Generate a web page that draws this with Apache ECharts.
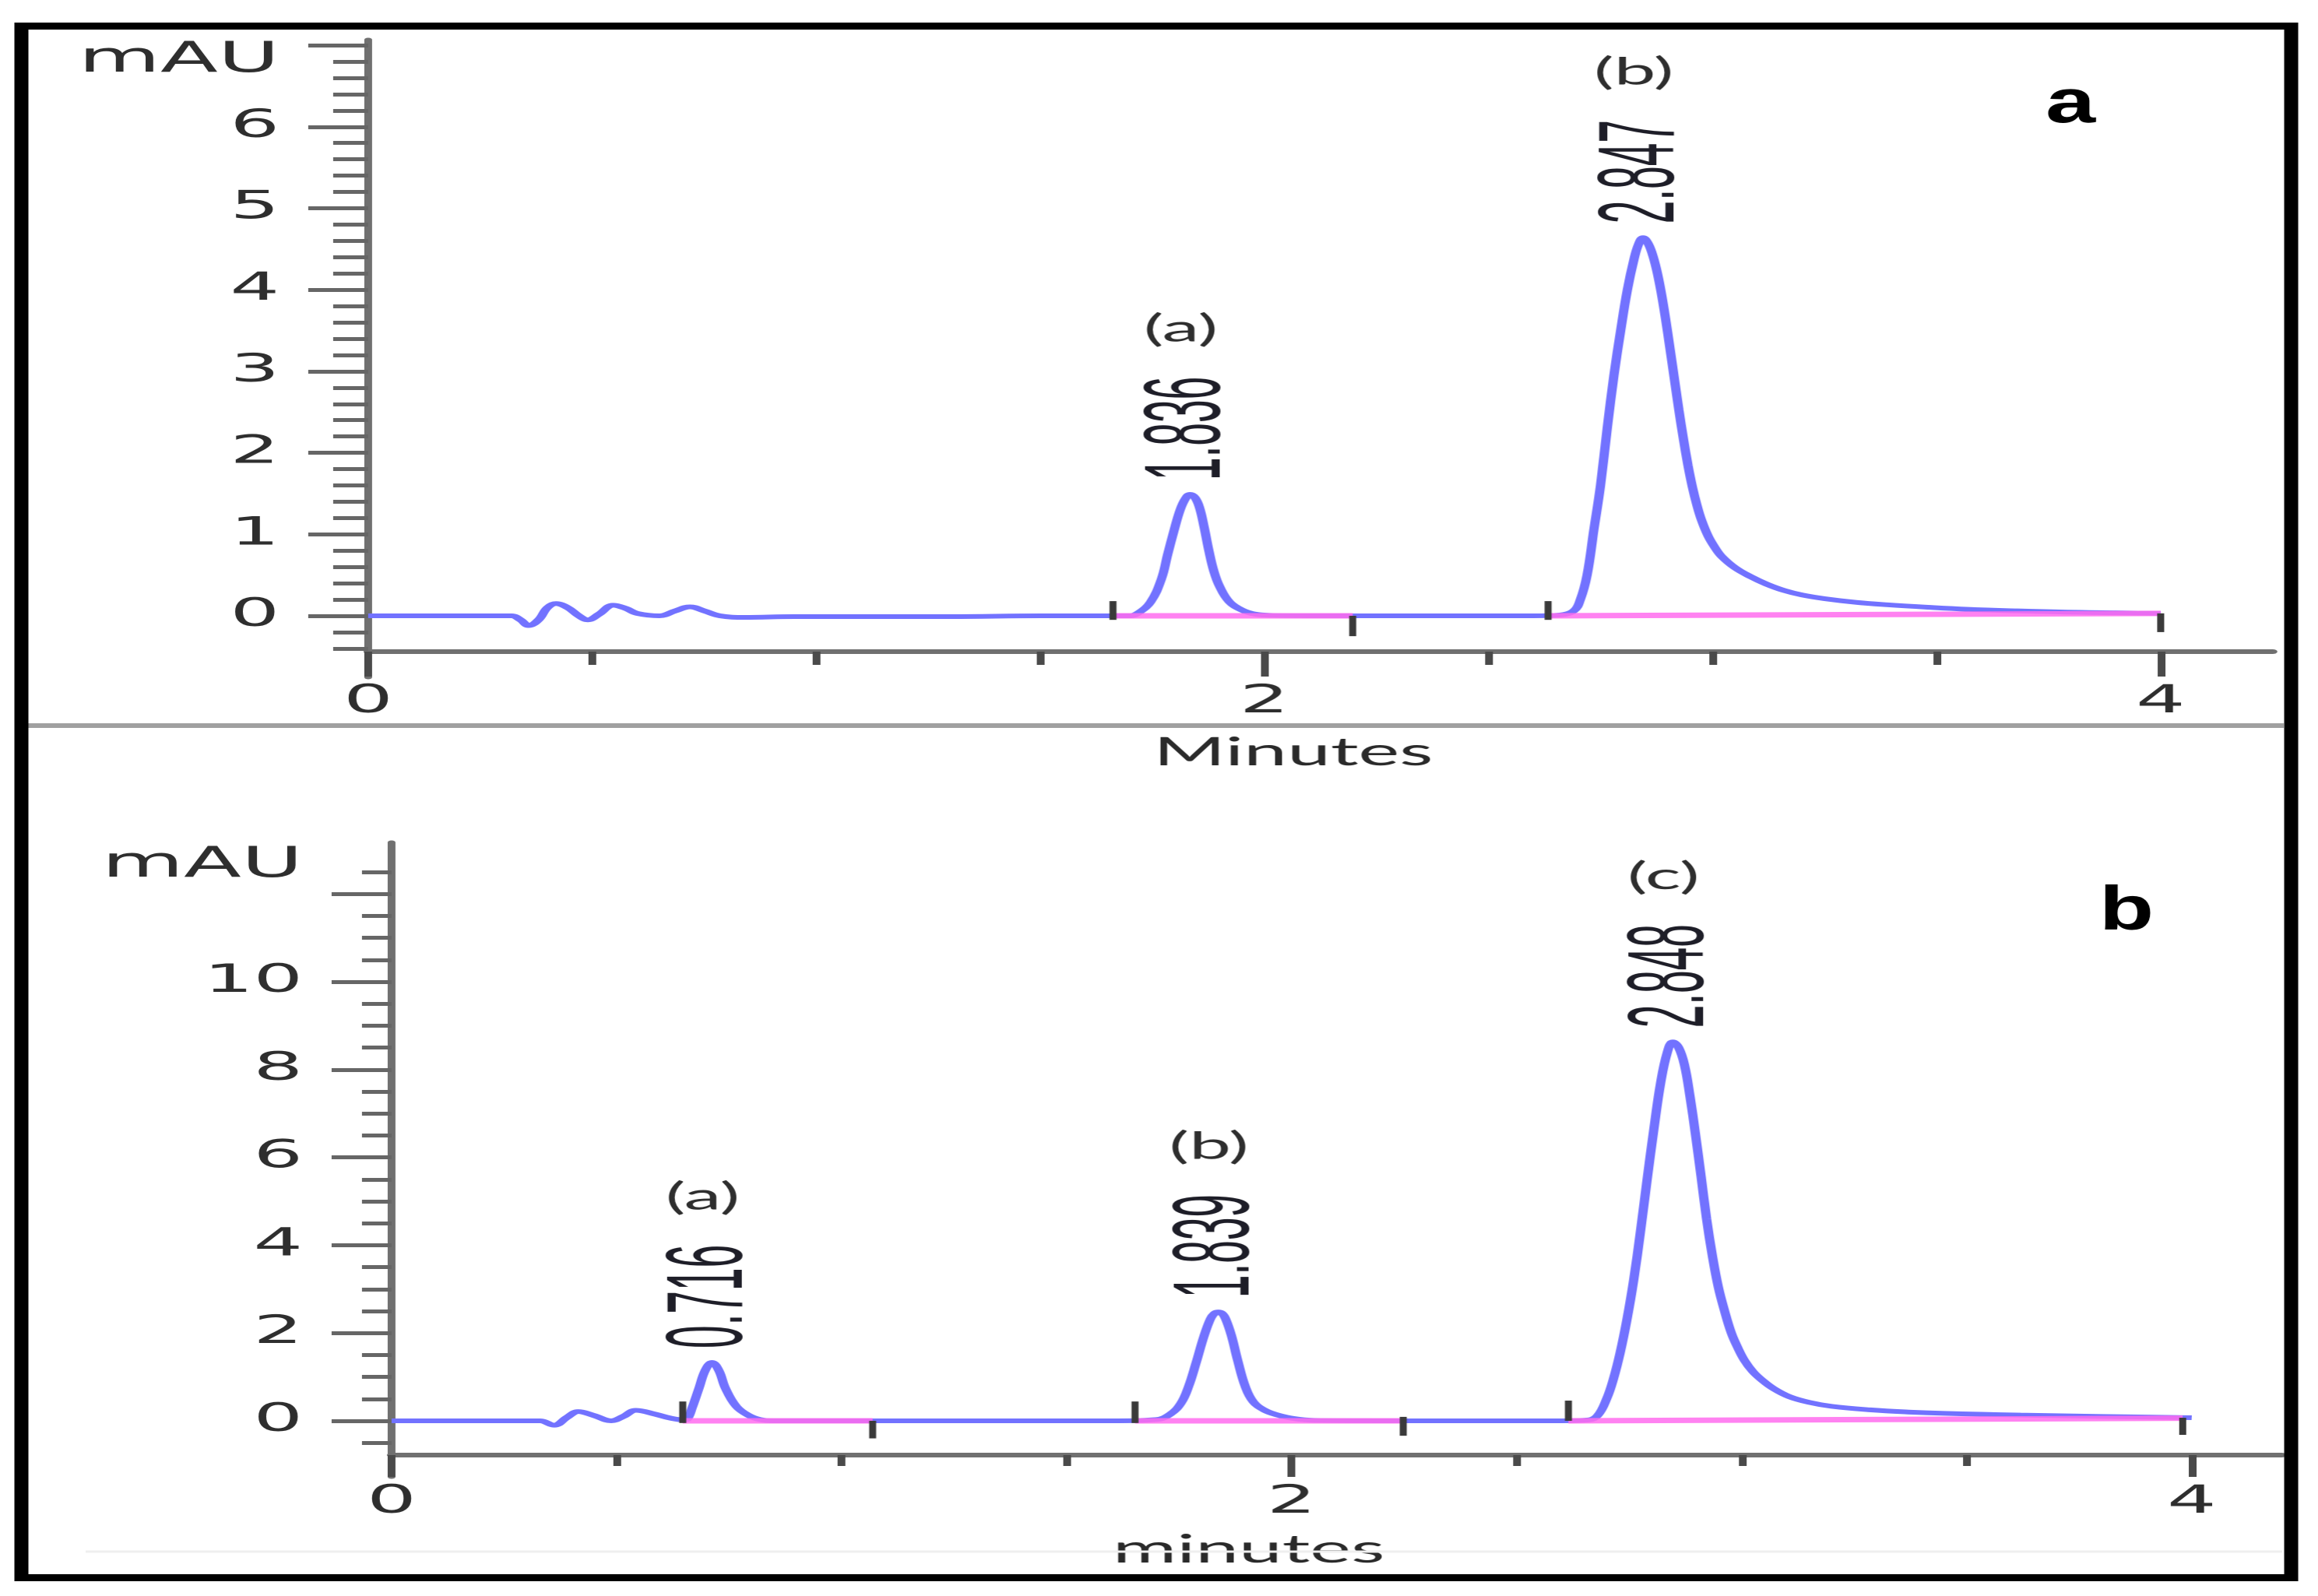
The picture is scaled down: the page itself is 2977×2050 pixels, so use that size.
<!DOCTYPE html>
<html><head><meta charset="utf-8">
<script src="https://cdn.jsdelivr.net/npm/echarts@6/dist/echarts.min.js"></script>
<style>
html,body{margin:0;padding:0;background:#fff;overflow:hidden;width:2977px;height:2050px;}
#wrap{position:absolute;left:0;top:0;width:1489px;height:2050px;transform:scaleX(1.99933);transform-origin:0 0;}
#chart{width:1489px;height:2050px;}
</style></head><body>
<div id="wrap"><div id="chart"></div></div>
<script>
// ---------- DATA ----------
// Panel a : time (min), signal (mAU)
const topTrace = [[0,0],[0.3,0],[0.32,0],[0.34,-0.05],[0.358,-0.12],[0.38,-0.05],[0.4,0.1],[0.419,0.15],[0.445,0.1],[0.47,0.0],[0.49,-0.05],[0.515,0.02],[0.547,0.13],[0.575,0.09],[0.6,0.03],[0.65,0.0],[0.685,0.06],[0.718,0.11],[0.75,0.06],[0.785,0.0],[0.84,-0.02],[0.95,-0.01],[1.1,-0.01],[1.3,-0.01],[1.5,0],[1.65,0],[1.7,0],[1.72,0.04],[1.746,0.17],[1.77,0.45],[1.784,0.75],[1.798,1.04],[1.812,1.3],[1.824,1.44],[1.834,1.49],[1.845,1.45],[1.855,1.33],[1.865,1.1],[1.876,0.8],[1.887,0.55],[1.9,0.36],[1.922,0.17],[1.95,0.07],[1.98,0.02],[2.02,0.005],[2.1,0],[2.4,0],[2.6,0],[2.66,0.01],[2.69,0.06],[2.705,0.2],[2.72,0.5],[2.735,1.05],[2.75,1.6],[2.765,2.3],[2.78,2.95],[2.795,3.5],[2.81,4.0],[2.825,4.38],[2.835,4.56],[2.845,4.64],[2.855,4.58],[2.865,4.45],[2.875,4.25],[2.885,3.98],[2.895,3.65],[2.905,3.28],[2.915,2.9],[2.925,2.52],[2.935,2.17],[2.945,1.85],[2.955,1.58],[2.965,1.36],[2.975,1.18],[2.99,0.98],[3.005,0.84],[3.02,0.73],[3.05,0.59],[3.085,0.48],[3.12,0.39],[3.16,0.31],[3.2,0.255],[3.25,0.21],[3.32,0.165],[3.39,0.135],[3.48,0.105],[3.57,0.08],[3.68,0.06],[3.79,0.045],[3.9,0.037],[4.0,0.03]];
// Panel b
const bottomTrace = [[0,0],[0.3,0],[0.33,0],[0.361,-0.1],[0.39,0.08],[0.415,0.21],[0.45,0.12],[0.488,0.0],[0.515,0.1],[0.543,0.24],[0.586,0.15],[0.62,0.06],[0.65,0.02],[0.658,0.05],[0.668,0.3],[0.683,0.74],[0.697,1.15],[0.712,1.33],[0.727,1.15],[0.742,0.74],[0.766,0.33],[0.792,0.13],[0.818,0.03],[0.85,0],[1.0,0],[1.3,0],[1.6,0],[1.7,0.03],[1.73,0.15],[1.754,0.4],[1.771,0.78],[1.788,1.33],[1.805,1.92],[1.82,2.33],[1.829,2.45],[1.837,2.48],[1.845,2.45],[1.853,2.33],[1.866,1.95],[1.88,1.38],[1.897,0.78],[1.915,0.43],[1.94,0.24],[1.966,0.14],[2.006,0.05],[2.05,0.01],[2.2,0],[2.6,0],[2.66,0.02],[2.68,0.12],[2.7,0.5],[2.715,0.95],[2.73,1.55],[2.745,2.3],[2.76,3.2],[2.775,4.3],[2.79,5.5],[2.805,6.65],[2.82,7.7],[2.835,8.4],[2.847,8.63],[2.86,8.5],[2.873,8.1],[2.885,7.4],[2.897,6.55],[2.91,5.55],[2.922,4.6],[2.935,3.75],[2.948,3.05],[2.962,2.5],[2.977,2.0],[2.992,1.65],[3.006,1.38],[3.025,1.12],[3.045,0.93],[3.07,0.74],[3.106,0.55],[3.15,0.42],[3.2,0.33],[3.285,0.25],[3.37,0.2],[3.45,0.17],[3.62,0.13],[3.8,0.1],[4.0,0.07]];

// integration baselines (pink) : segments of [time, mAU]
const topBaseSegments = [[[1.662,0],[2.197,0]],[[2.633,0],[4.0,0.03]]];
const bottomBaseSegments = [[[0.647,0],[1.069,0]],[[1.652,0],[2.248,0]],[[2.615,0],[3.98,0.06]]];
// integration event marks : [time, from mAU, to mAU]
const topEvents = [[1.662,-0.05,0.18],[2.197,0.0,-0.25],[2.633,-0.05,0.18],[4.0,0.03,-0.2]];
const bottomEvents = [[0.647,-0.05,0.44],[1.069,0.0,-0.4],[1.652,-0.05,0.44],[2.248,0.09,-0.34],[2.615,0.0,0.46],[3.98,0.07,-0.32]];

// peak annotations
const topPeakTime = [1.834, 2.845];
const topPeakHeight = [1.49, 4.64];
const topPeakRT = ['1.836', '2.847'];
const topPeakTag = ['(a)', '(b)'];
const bottomPeakTime = [0.712, 1.837, 2.847];
const bottomPeakHeight = [1.33, 2.48, 8.63];
const bottomPeakRT = ['0.716', '1.839', '2.848'];
const bottomPeakTag = ['(a)', '(b)', '(c)'];

// ticks and labels
const xLabels = [0, 2, 4];
const xMajorTicks = [0, 2, 4];
const xMinorTicks = [0.5, 1, 1.5, 2.5, 3, 3.5];
const topYLabels = [0, 1, 2, 3, 4, 5, 6];
const topYMajorTicks = [0, 1, 2, 3, 4, 5, 6, 7];
const bottomYLabels = [0, 2, 4, 6, 8, 10];
const bottomYMajorTicks = [0, 2, 4, 6, 8, 10, 12];
function minorTicks(from, to, step, majorStep) {
  const out = [];
  const n = Math.round((to - from) / step);
  for (let i = 0; i <= n; i++) {
    const v = +(from + i * step).toFixed(3);
    if (Math.abs(v / majorStep - Math.round(v / majorStep)) > 1e-6) out.push(v);
  }
  return out;
}
const topYMinorTicks = minorTicks(-0.4, 6.8, 0.2, 1);
const bottomYMinorTicks = minorTicks(-0.5, 12.5, 0.5, 2);
const panelLetters = ['a', 'b'];
const xNames = ['Minutes', 'minutes'];
const yName = 'mAU';

// ---------- CHART ----------
const chart = echarts.init(document.getElementById('chart'), null, {devicePixelRatio: 2});
const AX = '#707070';
const LBL = {color: '#2e2e2e', fontFamily: '"DejaVu Sans", sans-serif', fontSize: 50};

function xAxes(grid, max, offset, tickLen, minorLen, labelMargin, name, nameGap, namePad) {
  return [{
    gridIndex: grid, type: 'value', min: 0, max: max, position: 'bottom', offset: offset,
    axisLine: {show: true, onZero: false, lineStyle: {color: AX, width: 6}},
    axisTick: {show: true, customValues: xMajorTicks, length: tickLen, lineStyle: {color: '#4a4a4a', width: 5}},
    axisLabel: Object.assign({show: true, customValues: xLabels, margin: labelMargin}, LBL),
    splitLine: {show: false},
    name: name, nameLocation: 'middle', nameGap: nameGap,
    nameTextStyle: {color: '#2a2a2a', fontFamily: 'Lato, sans-serif', fontSize: 50, padding: [0, namePad, 0, 0]}
  }, {
    gridIndex: grid, type: 'value', min: 0, max: max, position: 'bottom', offset: offset,
    axisLine: {show: false, onZero: false},
    axisTick: {show: true, customValues: xMinorTicks, length: minorLen, lineStyle: {color: '#4a4a4a', width: 5}},
    axisLabel: {show: false}, splitLine: {show: false}
  }];
}
function yAxes(grid, min, max, majors, labels, minors, majLen, minLen, nameGap) {
  return [{
    gridIndex: grid, type: 'value', min: min, max: max, position: 'left',
    axisLine: {show: true, onZero: false, lineStyle: {color: AX, width: 5}},
    axisTick: {show: true, customValues: majors, length: majLen, lineStyle: {color: '#666', width: 5}},
    axisLabel: Object.assign({show: true, customValues: labels, margin: 57}, LBL),
    splitLine: {show: false},
    name: yName, nameLocation: 'end', nameGap: nameGap,
    nameTextStyle: Object.assign({align: 'right', verticalAlign: 'middle', padding: [0, 57, 0, 0]}, LBL, {fontSize: 54})
  }, {
    gridIndex: grid, type: 'value', min: min, max: max, position: 'left',
    axisLine: {show: false, onZero: false},
    axisTick: {show: true, customValues: minors, length: minLen, lineStyle: {color: '#666', width: 5}},
    axisLabel: {show: false}, splitLine: {show: false}
  }];
}

function traceSeries(xi, yi, data) {
  return {type: 'line', xAxisIndex: xi, yAxisIndex: yi, data: data, symbol: 'none', showSymbol: false,
    smooth: 0.4, lineStyle: {color: '#7272ff', width: 6}, z: 3, silent: true};
}
function baseSeries(xi, yi, segs) {
  return segs.map(s => ({type: 'line', xAxisIndex: xi, yAxisIndex: yi, data: s, symbol: 'none', showSymbol: false,
    lineStyle: {color: '#ff6cee', width: 7, opacity: 0.85}, z: 4, silent: true}));
}
function eventSeries(xi, yi, data) {
  return {type: 'custom', xAxisIndex: xi, yAxisIndex: yi, data: data, z: 5, silent: true,
    renderItem: function (params, api) {
      const a = api.coord([api.value(0), api.value(1)]);
      const b = api.coord([api.value(0), api.value(2)]);
      return {type: 'line', shape: {x1: a[0], y1: a[1], x2: b[0], y2: b[1]}, style: {stroke: '#3a3a3a', lineWidth: 4.5}};
    }};
}

const option = {
  animation: false,
  backgroundColor: '#ffffff',
  grid: [
    {left: 236.5, top: 51, width: 1223.4, height: 819, containLabel: false, outerBoundsMode: 'none'},
    {left: 251.5, top: 1082, width: 1214.2, height: 815, containLabel: false, outerBoundsMode: 'none'}
  ],
  xAxis: [].concat(
    xAxes(0, 4.25, -33, 32, 17, 40, xNames[0], 105, 35),
    xAxes(1, 4.2, -28, 28, 14, 36, xNames[1], 97, 113)
  ),
  yAxis: [].concat(
    yAxes(0, -0.755, 7.068, topYMajorTicks, topYLabels, topYMinorTicks, 38.5, 22.5, -27),
    yAxes(1, -1.277, 13.174, bottomYMajorTicks, bottomYLabels, bottomYMinorTicks, 38.5, 19, -30)
  ),
  series: [].concat(
    [traceSeries(0, 0, topTrace)],
    baseSeries(0, 0, topBaseSegments),
    [eventSeries(0, 0, topEvents)],
    [traceSeries(2, 2, bottomTrace)],
    baseSeries(2, 2, bottomBaseSegments),
    [eventSeries(2, 2, bottomEvents)]
  )
};
chart.setOption(option);

function peakGraphics(xi, yi, times, heights, rts, tags) {
  const out = [];
  times.forEach(function (t, i) {
    const p = chart.convertToPixel({xAxisIndex: xi, yAxisIndex: yi}, [t, heights[i]]);
    out.push({type: 'text', x: p[0], y: p[1] - 18, rotation: Math.PI / 2, scaleX: 0.76, z: 20,
      style: {text: rts[i], font: '70px "Liberation Sans", Arial, sans-serif', fill: '#1e1e28',
        textAlign: 'left', textVerticalAlign: 'middle', align: 'left', verticalAlign: 'middle'}});
    out.push({type: 'text', x: p[0] - 6, y: p[1] - 212, z: 20,
      style: {text: tags[i], font: '48px Lato, sans-serif', fill: '#2e2e2e',
        textAlign: 'center', textVerticalAlign: 'middle', align: 'center', verticalAlign: 'middle'}});
  });
  return out;
}

const graphics = [].concat(
  peakGraphics(0, 0, topPeakTime, topPeakHeight, topPeakRT, topPeakTag),
  peakGraphics(2, 2, bottomPeakTime, bottomPeakHeight, bottomPeakRT, bottomPeakTag),
  [
    {type: 'text', x: 1330, y: 135, scaleX: 0.72, z: 20,
      style: {text: panelLetters[0], font: 'bold 80px "Liberation Sans", Arial, sans-serif', fill: '#000',
        textAlign: 'center', textVerticalAlign: 'middle', align: 'center', verticalAlign: 'middle'}},
    {type: 'text', x: 1366, y: 1172, scaleX: 0.72, z: 20,
      style: {text: panelLetters[1], font: 'bold 80px "Liberation Sans", Arial, sans-serif', fill: '#000',
        textAlign: 'center', textVerticalAlign: 'middle', align: 'center', verticalAlign: 'middle'}},
    {type: 'line', z: 15, shape: {x1: 18, y1: 932, x2: 1467, y2: 932}, style: {stroke: '#a0a0a0', lineWidth: 6}},
    {type: 'line', z: 15, shape: {x1: 55, y1: 1993, x2: 1466, y2: 1993}, style: {stroke: '#efefef', lineWidth: 3}},
    {type: 'rect', z: 30, shape: {x: 13.75, y: 33.5, width: 1458, height: 1993}, style: {fill: 'none', stroke: '#000', lineWidth: 9}}
  ]
);
chart.setOption({graphic: graphics});
</script>
</body></html>
